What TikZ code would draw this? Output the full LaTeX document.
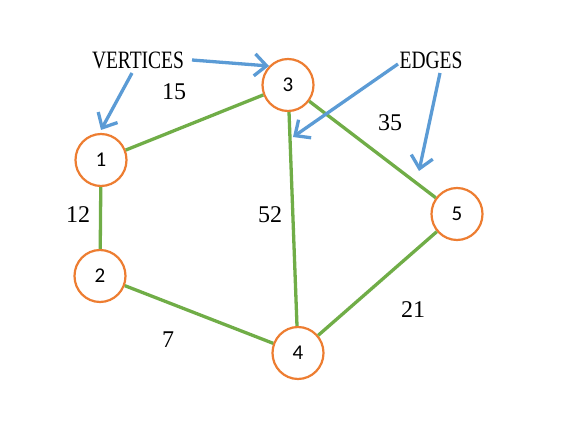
\documentclass[tikz,border=0pt]{standalone}
\usepackage{fontspec}
\usetikzlibrary{shapes.geometric,arrows.meta}
\newfontfamily\labfont[FakeStretch=0.78]{Liberation Serif}
\newfontfamily\digfont{Liberation Serif}
\newfontfamily\numfont{Carlito}
\definecolor{vgreen}{RGB}{112,173,71}
\definecolor{vorange}{RGB}{237,125,49}
\definecolor{vblue}{RGB}{91,155,213}
\tikzset{
  vertex/.style={ellipse, draw=vorange, line width=2.2pt, fill=white, minimum width=51pt, minimum height=52pt, inner sep=0pt, font=\numfont\fontsize{21}{21}\selectfont},
  edgeline/.style={draw=vgreen, line width=3.3pt},
  pointer/.style={draw=vblue, line width=3.3pt, -{Straight Barb[length=12pt, width=22pt, line width=3.3pt]}},
  lab/.style={inner sep=0pt, font=\labfont\fontsize{25}{25}\selectfont},
  weight/.style={inner sep=0pt, font=\digfont\fontsize{24}{24}\selectfont}
}
\begin{document}
\begin{tikzpicture}[x=1pt,y=-1pt]
\useasboundingbox (0,0) rectangle (564,430);
\node[vertex] (n1) at (101,160) {1};
\node[vertex] (n2) at (100,276) {2};
\node[vertex] (n3) at (288,85) {3};
\node[vertex] (n4) at (298,353) {4};
\node[vertex] (n5) at (457,214) {5};
\draw[edgeline] (n1) -- (n3);
\draw[edgeline] (n1) -- (n2);
\draw[edgeline] (n3) -- (n4);
\draw[edgeline] (n3) -- (n5);
\draw[edgeline] (n2) -- (n4);
\draw[edgeline] (n5) -- (n4);
\node[weight] (w15) at (174,92) {15};
\node[weight] (w12) at (78,215) {12};
\node[weight] (w52) at (270,215) {52};
\node[weight] (w35) at (390,123) {35};
\node[weight] (w7) at (168,340) {7};
\node[weight] (w21) at (413,310) {21};
\node[lab] (vert) at (138,60) {VERTICES};
\node[lab] (edg) at (431,60) {EDGES};
\coordinate (t3) at (269,66);
\coordinate (t1) at (101,130);
\coordinate (te34) at (293,137);
\coordinate (te35) at (419,171);
\draw[pointer] (192,60) coordinate (s1) -- (t3);
\draw[pointer] (132,73) coordinate (s2) -- (t1);
\draw[pointer] (398,64) coordinate (s3) -- (te34);
\draw[pointer] (440,73) coordinate (s4) -- (te35);
\end{tikzpicture}
\end{document}
